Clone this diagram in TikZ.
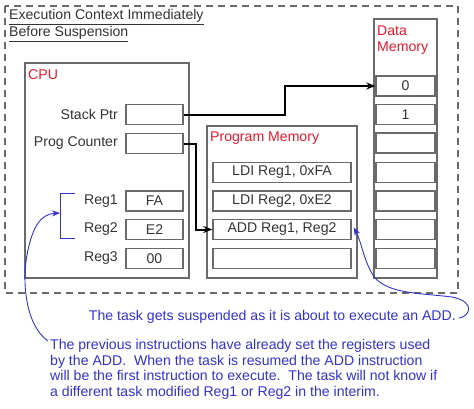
\documentclass[tikz,border=0pt]{standalone}
\usepackage{fontspec}
\setmainfont{Liberation Sans}
\usetikzlibrary{arrows.meta}
\definecolor{boxgray}{HTML}{6A6A6A}
\definecolor{txtgray}{HTML}{333333}
\definecolor{memred}{HTML}{E8182C}
\definecolor{noteblue}{HTML}{3232D2}
\begin{document}
\begin{tikzpicture}[x=1pt,y=-1pt,
  every node/.style={font=\fontsize{14.1}{15.6}\selectfont},
  frame/.style={draw=boxgray,line width=1.4pt},
  cell/.style={draw=boxgray,line width=1.4pt,minimum height=20pt,inner sep=0pt,text=txtgray},
  reg/.style={cell,minimum width=57pt},
  instr/.style={cell,minimum width=138pt},
  dcell/.style={cell,minimum width=59pt},
  lbl/.style={anchor=east,text=txtgray,inner sep=0pt},
  redtitle/.style={anchor=west,text=memred,inner sep=0pt,align=left},
  flow/.style={line width=2pt,-{Stealth[length=9pt,width=7pt]}},
  note/.style={noteblue,line width=0.9pt},
  notearrow/.style={note,-{Stealth[length=8pt,width=6pt]}}
]
\useasboundingbox (0,0) rectangle (474,408);
% outer dashed frame
\draw[boxgray,line width=1.4pt,dash pattern=on 7pt off 5pt] (5,6) rectangle (458,293);
\node[anchor=west,text=txtgray,inner sep=0pt,align=left,font=\fontsize{14.1}{17}\selectfont] (title) at (9,25.5)
  {\underline{Execution Context Immediately}\\\underline{Before Suspension}};
% CPU
\draw[frame] (25,63) rectangle (189,278);
\node[redtitle] (cpu) at (28,75) {CPU};
\node[reg] (sp) at (154.5,114.5) {};
\node[reg] (pc) at (154.5,143.5) {};
\node[reg] (r1) at (154.5,201) {FA};
\node[reg] (r2) at (154.5,229.5) {E2};
\node[reg] (r3) at (154.5,258.5) {00};
\node[lbl] at (118,114.5) {Stack Ptr};
\node[lbl] at (118,143.5) {Prog Counter};
\node[lbl] at (118,201) {Reg1};
\node[lbl] at (118,229.5) {Reg2};
\node[lbl] at (118,258.5) {Reg3};
\coordinate (bt) at (75,193);
\coordinate (bb) at (75,238);
\draw[note] (bt) -- ++(-15,0) coordinate (bl) -- ++(0,45) -- (bb);
\coordinate (bmid) at (60,213);
% Program memory
\draw[frame] (207,126) rectangle (357,278);
\node[redtitle] (pm) at (210,138) {Program Memory};
\node[instr] (i1) at (282,172.5) {LDI Reg1, 0xFA};
\node[instr] (i2) at (282,201) {LDI Reg2, 0xE2};
\node[instr] (add) at (282,229.5) {ADD Reg1, Reg2};
\node[instr] (i4) at (282,258.5) {};
% Data memory
\draw[frame] (374,19) rectangle (437,278);
\node[redtitle,font=\fontsize{14.1}{16.5}\selectfont] (dm) at (377,40) {Data\\Memory};
\node[dcell] (d0) at (405.5,86) {0};
\node[dcell] (d1) at (405.5,114.5) {1};
\node[dcell] (d2) at (405.5,143) {};
\node[dcell] (d3) at (405.5,172.5) {};
\node[dcell] (d4) at (405.5,201) {};
\node[dcell] (d5) at (405.5,229.5) {};
\node[dcell] (d6) at (405.5,258.5) {};
% pointers
\draw[flow] (sp.east) -- ++(101,0) |- (d0.west);
\draw[flow] (pc.east) -- ++(12,0) |- (add.west);
% notes
\node[anchor=east,text=noteblue,inner sep=0pt] (t1) at (456,317)
  {The task gets suspended as it is about to execute an ADD.};
\node[anchor=north west,text=noteblue,inner sep=0pt,align=left,font=\fontsize{14.1}{15.7}\selectfont] (t2) at (50,339)
  {The previous instructions have already set the registers used\\
   by the ADD.\ \ When the task is resumed the ADD instruction\\
   will be the first instruction to execute.\ \ The task will not know if\\
   a different task modified Reg1 or Reg2 in the interim.};
\coordinate (t1end) at (459,318);
\draw[notearrow] (t1end) .. controls (469,317) and (477,302) .. (452,297)
  .. controls (420,293) and (390,294) .. (375,278)
  .. controls (364,263) and (362,243) .. ([xshift=2pt,yshift=2pt]add.east);
\coordinate (t2start) at (48,341);
\draw[notearrow] (t2start) .. controls (25,325) and (22,280) .. (27,255)
  .. controls (32,228) and (40,214) .. (bmid);
\end{tikzpicture}
\end{document}
